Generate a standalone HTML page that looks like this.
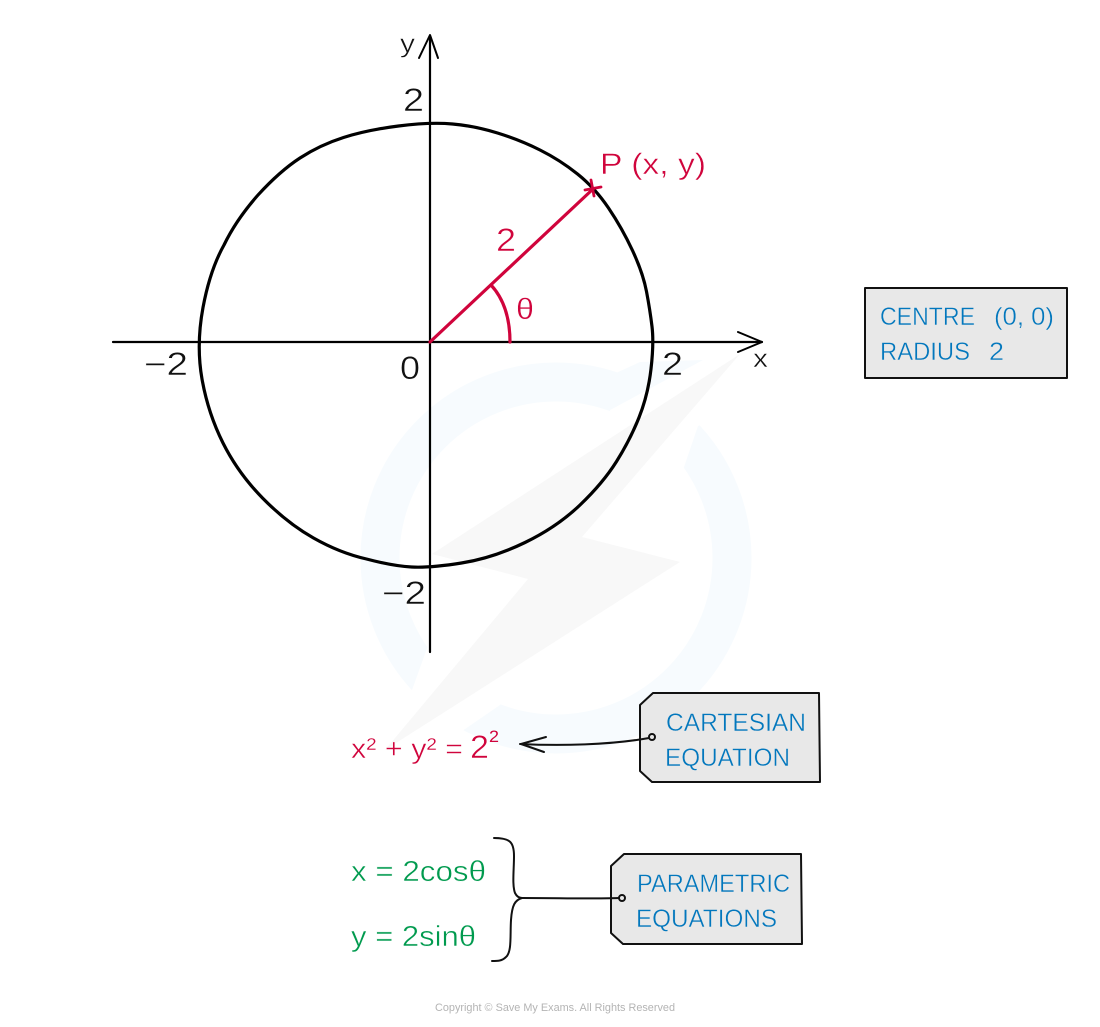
<!DOCTYPE html>
<html><head><meta charset="utf-8"><style>
html,body{margin:0;padding:0;background:#fff}
svg{display:block}
text{font-family:"Liberation Sans",sans-serif}
.thin{stroke:#fff;stroke-width:.45}
.thing{stroke:#e8e8e8;stroke-width:.4}
</style></head><body>
<svg width="1100" height="1027" viewBox="0 0 1100 1027" xmlns="http://www.w3.org/2000/svg">
<!-- watermark -->
<circle cx="556" cy="558" r="176" fill="none" stroke="#f7fbfe" stroke-width="39"/>
<polygon points="610,410 703,360 760,355 760,400 698,426 683,470 628,512" fill="#fff"/>
<polygon points="610,410 703,360 640,362 590,385" fill="#f7fbfe"/>
<polygon points="482,603 430,640 412,690 385,750 420,760 500,705 560,640" fill="#fff"/>
<polygon points="740,354 582,537 680,562 385,750 528,579 432,554" fill="#f8f8f8"/>

<!-- axes -->
<g fill="none" stroke="#000" stroke-linecap="round" stroke-linejoin="round">
<path d="M430,36 V652" stroke-width="2.2"/>
<path d="M419,58 L430,35 L438,58" stroke-width="2"/>
<path d="M113,342 H762" stroke-width="2.2"/>
<path d="M738,332 L762,342 L738,352" stroke-width="2"/>
<path d="M398.5,126 Q430,122 452.5,124 Q475,126 497.5,133 Q520,140 540,150 Q560,160 577.5,174 Q595,188 608.5,208 Q622,228 632.5,250.5 Q643,273 646.5,291.5 Q650,310 652,326.5 Q654,343 651,369 Q648,395 639,417.5 Q630,440 616.5,461.5 Q603,483 580,505 Q557,527 525,542.5 Q493,558 461.5,563 Q430,568 411.5,567 Q393,566 366.5,559 Q340,553 313.5,538 Q287,523 262.5,498 Q238,473 223,443 Q208,413 202,379 Q196,345 203,307.5 Q210,270 224,245 Q236,220 258,195 Q280,171 300,158 Q320,145 343.5,137.5 Q367,130 398.5,126 Z" stroke-width="3.2"/>
</g>

<!-- red radius -->
<g fill="none" stroke="#d0043c" stroke-linecap="round">
<path d="M430,342 L593,189" stroke-width="3.2"/>
<path d="M585,190 L601,187 M591,180 L594,196" stroke-width="2.8"/>
<path d="M491,285 C503,298 510,316 510,342" stroke-width="3.2"/>
</g>

<!-- black labels -->
<g fill="#111" font-size="32" class="thin">
<text x="400" y="52" font-size="26" textLength="15" lengthAdjust="spacingAndGlyphs">y</text>
<text x="403" y="111" textLength="21" lengthAdjust="spacingAndGlyphs">2</text>
<text x="144" y="375" textLength="44" lengthAdjust="spacingAndGlyphs">−2</text>
<text x="400" y="379" textLength="20" lengthAdjust="spacingAndGlyphs">0</text>
<text x="662" y="375" textLength="21" lengthAdjust="spacingAndGlyphs">2</text>
<text x="753" y="367" font-size="26" textLength="15" lengthAdjust="spacingAndGlyphs">x</text>
<text x="382" y="604" textLength="44" lengthAdjust="spacingAndGlyphs">−2</text>
</g>

<!-- red labels -->
<g fill="#d0043c" class="thin">
<text x="600" y="174" font-size="30" textLength="106" lengthAdjust="spacingAndGlyphs">P (x, y)</text>
<text x="496" y="251" font-size="32" textLength="20" lengthAdjust="spacingAndGlyphs">2</text>
<text x="516" y="319" font-size="30" textLength="18" lengthAdjust="spacingAndGlyphs">θ</text>
<text x="351" y="758" font-size="28" textLength="112" lengthAdjust="spacingAndGlyphs">x² + y² =</text>
<text x="470" y="758" font-size="32" textLength="19" lengthAdjust="spacingAndGlyphs">2</text>
</g>
<text x="489" y="742" font-size="17" fill="#d0043c" textLength="10" lengthAdjust="spacingAndGlyphs">2</text>

<!-- green -->
<g fill="#009a4e" font-size="29" class="thin">
<text x="351" y="881" textLength="135" lengthAdjust="spacingAndGlyphs">x = 2cosθ</text>
<text x="351" y="946" textLength="125" lengthAdjust="spacingAndGlyphs">y = 2sinθ</text>
</g>

<!-- boxes -->
<g stroke="#111" stroke-width="2" fill="#e8e8e8" stroke-linejoin="round">
<rect x="865" y="288" width="202" height="90"/>
<path d="M653,693 H819 L820,782 H652 L640,771 V705 Z"/>
<path d="M624,854 H801 L802,944 H623 L611,933 V866 Z"/>
</g>

<!-- connectors -->
<g fill="none" stroke="#111" stroke-linecap="round" stroke-linejoin="round">
<path d="M520,744 C560,746 610,745 649,738" stroke-width="2"/>
<path d="M546,737 L521,744 L544,752" stroke-width="2"/>
<path d="M494,838 C510,838 514,842 514,856 C514,870 512,885 515,893 C517,897 520,898 522,898 C515,900 512,905 511,920 C510,935 512,952 506,957 C502,961 498,961 492,961" stroke-width="2"/>
<path d="M522,898 C560,898 590,899 619,898" stroke-width="2"/>
</g>
<circle cx="652" cy="737" r="3" fill="none" stroke="#111" stroke-width="2"/>
<circle cx="622" cy="898" r="3" fill="none" stroke="#111" stroke-width="2"/>

<!-- blue text -->
<g fill="#0277bd" font-size="25" class="thing">
<text x="880" y="325" textLength="95" lengthAdjust="spacingAndGlyphs">CENTRE</text>
<text x="994" y="325" textLength="60" lengthAdjust="spacingAndGlyphs">(0, 0)</text>
<text x="880" y="360" textLength="90" lengthAdjust="spacingAndGlyphs">RADIUS</text>
<text x="989" y="360" textLength="15" lengthAdjust="spacingAndGlyphs">2</text>
<text x="666" y="731" textLength="140" lengthAdjust="spacingAndGlyphs">CARTESIAN</text>
<text x="665" y="766" textLength="125" lengthAdjust="spacingAndGlyphs">EQUATION</text>
<text x="637" y="892" textLength="153" lengthAdjust="spacingAndGlyphs">PARAMETRIC</text>
<text x="636" y="927" textLength="141" lengthAdjust="spacingAndGlyphs">EQUATIONS</text>
</g>

<text x="435" y="1011" font-size="11" fill="#b4b4b4" textLength="240" lengthAdjust="spacingAndGlyphs">Copyright © Save My Exams. All Rights Reserved</text>
</svg>
</body></html>
